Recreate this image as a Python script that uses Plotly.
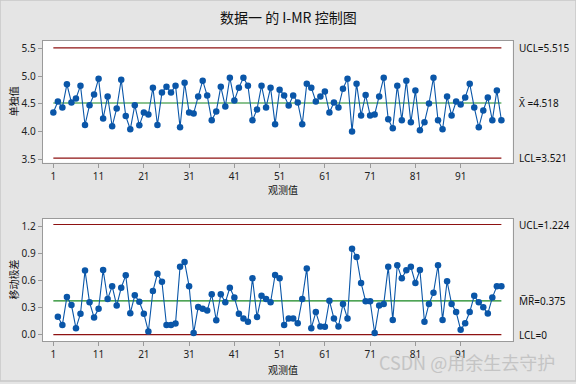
import numpy as np
import plotly.graph_objects as go

# ---- data ----
obs = list(range(1, 101))
individual = [
    4.347, 4.545, 4.437, 4.856, 4.527, 4.599, 4.832, 4.120, 4.479, 4.671,
    4.958, 4.239, 4.635, 4.096, 4.419, 4.940, 4.281, 4.042, 4.479, 4.114,
    4.347, 4.311, 4.796, 4.120, 4.707, 4.814, 4.707, 4.832, 4.078, 4.886,
    4.347, 4.329, 4.635, 4.922, 4.653, 4.205, 4.365, 4.814, 4.455, 4.976,
    4.563, 4.796, 4.976, 4.832, 4.205, 4.401, 4.832, 4.437, 4.796, 4.132,
    4.760, 4.653, 4.473, 4.653, 4.527, 4.132, 4.868, 4.796, 4.545, 4.635,
    4.724, 4.347, 4.527, 4.437, 4.778, 4.958, 4.004, 4.868, 4.293, 4.665,
    4.293, 4.311, 4.635, 4.976, 4.222, 4.060, 4.832, 4.205, 4.922, 4.168,
    4.742, 4.024, 4.168, 4.509, 4.976, 4.205, 4.042, 4.635, 4.293, 4.545,
    4.491, 4.617, 4.868, 4.437, 4.078, 4.383, 4.617, 4.205, 4.742, 4.205,
]
# moving range = |x_i - x_{i-1}|, plotted from observation 2
mr_obs = obs[1:]
moving_range = list(np.round(np.abs(np.diff(individual)), 3))

i_ucl, i_center, i_lcl = 5.515, 4.518, 3.521
mr_ucl, mr_center, mr_lcl = 1.224, 0.375, 0.0

x_ticks = [1, 11, 21, 31, 41, 51, 61, 71, 81, 91]
i_ticks = [3.5, 4.0, 4.5, 5.0, 5.5]
i_tick_text = ["3.5", "4.0", "4.5", "5.0", "5.5"]
mr_ticks = [0.0, 0.3, 0.6, 0.9, 1.2]
mr_tick_text = ["0.0", "0.3", "0.6", "0.9", "1.2"]

title_text = "数据一 的 I-MR 控制图"
i_ytitle = "单独值"
mr_ytitle = "移动极差"
x_title = "观测值"

# ---- style ----
W, H = 576, 384
BG = "#e5e5e5"
BLUE = "#0a56a8"
RED = "#8e1212"
GREEN = "#14861e"
AXIS = "#9a9a9a"
FONT = "Noto Sans, DejaVu Sans, sans-serif"
CJK = "Noto Sans CJK SC, sans-serif"

def px_x(p):
    return p / W

def px_y(p):
    return 1 - p / H

fig = go.Figure()

# individual chart
fig.add_trace(go.Scatter(x=[obs[0], obs[-1]], y=[i_ucl, i_ucl], mode="lines",
                         line=dict(color=RED, width=1.2), xaxis="x", yaxis="y", hoverinfo="skip"))
fig.add_trace(go.Scatter(x=[obs[0], obs[-1]], y=[i_lcl, i_lcl], mode="lines",
                         line=dict(color=RED, width=1.2), xaxis="x", yaxis="y", hoverinfo="skip"))
fig.add_trace(go.Scatter(x=[obs[0], obs[-1]], y=[i_center, i_center], mode="lines",
                         line=dict(color=GREEN, width=1.2), xaxis="x", yaxis="y", hoverinfo="skip"))
fig.add_trace(go.Scatter(x=obs, y=individual, mode="lines+markers",
                         line=dict(color=BLUE, width=1.1),
                         marker=dict(color=BLUE, size=6.5), xaxis="x", yaxis="y"))

# moving range chart
fig.add_trace(go.Scatter(x=[obs[0], obs[-1]], y=[mr_ucl, mr_ucl], mode="lines",
                         line=dict(color=RED, width=1.2), xaxis="x2", yaxis="y2", hoverinfo="skip"))
fig.add_trace(go.Scatter(x=[obs[0], obs[-1]], y=[mr_lcl, mr_lcl], mode="lines",
                         line=dict(color=RED, width=1.2), xaxis="x2", yaxis="y2", hoverinfo="skip"))
fig.add_trace(go.Scatter(x=[obs[0], obs[-1]], y=[mr_center, mr_center], mode="lines",
                         line=dict(color=GREEN, width=1.2), xaxis="x2", yaxis="y2", hoverinfo="skip"))
fig.add_trace(go.Scatter(x=mr_obs, y=moving_range, mode="lines+markers",
                         line=dict(color=BLUE, width=1.1),
                         marker=dict(color=BLUE, size=6.5), xaxis="x2", yaxis="y2"))

x_dom = [px_x(42.7), px_x(512.7)]
x_range = [-1.35, 102.5]

common_axis = dict(showline=True, linecolor=AXIS, linewidth=1, mirror=True,
                   showgrid=False, zeroline=False, ticks="outside", ticklen=4,
                   tickcolor=AXIS, tickfont=dict(family=FONT, size=10, color="#222222"))

fig.update_layout(
    width=W, height=H,
    margin=dict(l=0, r=0, t=0, b=0),
    paper_bgcolor=BG, plot_bgcolor="white",
    showlegend=False,
    xaxis=dict(domain=x_dom, range=x_range, anchor="y", tickvals=x_ticks, **common_axis),
    yaxis=dict(domain=[px_y(164), px_y(41)], range=[3.437, 5.646], anchor="x",
               tickvals=i_ticks, ticktext=i_tick_text, **common_axis),
    xaxis2=dict(domain=x_dom, range=x_range, anchor="y2", tickvals=x_ticks, **common_axis),
    yaxis2=dict(domain=[px_y(344), px_y(220.3)], range=[-0.074, 1.290], anchor="x2",
                tickvals=mr_ticks, ticktext=mr_tick_text, **common_axis),
)

ann = []
ann.append(dict(text=title_text, x=0.5, y=px_y(17), xref="paper", yref="paper",
                showarrow=False, font=dict(family=CJK, size=14, color="#111111"),
                xanchor="center", yanchor="middle"))
# axis titles
ann.append(dict(text=i_ytitle, x=px_x(13.5), y=(px_y(164) + px_y(41)) / 2, xref="paper", yref="paper",
                showarrow=False, textangle=-90, xanchor="center", yanchor="middle",
                font=dict(family=CJK, size=10, color="#111111")))
ann.append(dict(text=mr_ytitle, x=px_x(13.5), y=(px_y(344) + px_y(220.3)) / 2, xref="paper", yref="paper",
                showarrow=False, textangle=-90, xanchor="center", yanchor="middle",
                font=dict(family=CJK, size=10, color="#111111")))
ann.append(dict(text=x_title, x=px_x(283), y=px_y(191), xref="paper", yref="paper",
                showarrow=False, xanchor="center", yanchor="middle",
                font=dict(family=CJK, size=10, color="#111111")))
ann.append(dict(text=x_title, x=px_x(283), y=px_y(372), xref="paper", yref="paper",
                showarrow=False, xanchor="center", yanchor="middle",
                font=dict(family=CJK, size=10, color="#111111")))

# control limit labels
lab_font = dict(family=FONT, size=10, color="#111111")
for txt, yv, ref in [
    ("UCL=5.515", i_ucl, "y"),
    ("X\u0304 =4.518", i_center, "y"),
    ("LCL=3.521", i_lcl, "y"),
    ("UCL=1.224", mr_ucl, "y2"),
    ("M\u0305R\u0305=0.375", mr_center, "y2"),
    ("LCL=0", mr_lcl, "y2"),
]:
    ann.append(dict(text=txt, x=px_x(517), y=yv, xref="paper", yref=ref,
                    showarrow=False, xanchor="left", yanchor="middle", font=lab_font))

# watermark
ann.append(dict(text="CSDN @用余生去守护", x=px_x(467), y=px_y(365), xref="paper", yref="paper",
                showarrow=False, xanchor="center", yanchor="middle",
                font=dict(family=CJK, size=18, color="#c4c4c4")))

fig.update_layout(annotations=ann)

# outer border
fig.add_shape(type="rect", xref="paper", yref="paper", x0=0, y0=0, x1=1, y1=1,
              line=dict(color="#c8c8c8", width=1.5), fillcolor="rgba(0,0,0,0)", layer="above")

fig.write_html("out.html", config={"displayModeBar": False})

# remove the default browser body margin so the figure sits at the page origin
with open("out.html", "r", encoding="utf-8") as f:
    html = f.read()
html = html.replace("<head>", "<head><style>html,body{margin:0;padding:0;overflow:hidden;}</style>", 1)
with open("out.html", "w", encoding="utf-8") as f:
    f.write(html)
